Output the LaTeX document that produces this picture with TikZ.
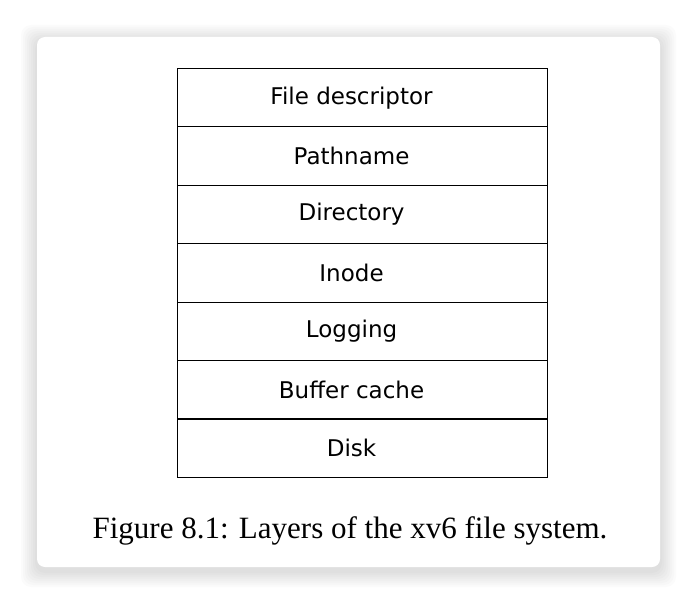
\documentclass[tikz,border=0pt]{standalone}
\usepackage{fontspec}
\setmainfont{DejaVu Sans}
\newfontfamily\capfont{Liberation Serif}
\begin{document}
\begin{tikzpicture}[x=1pt,y=-1pt,
  layer/.style={draw=black,line width=1.1pt,minimum width=370pt,minimum height=58.4pt,inner sep=0pt,anchor=north west,font=\fontsize{23}{26}\selectfont}]
\useasboundingbox (0,0) rectangle (696,604);
\fill[white] (0,0) rectangle (696,604);
\foreach \i in {16,14,...,2}{
  \fill[black,opacity=0.014,rounded corners=10pt] (37-\i,37-\i+4) rectangle (660+\i,567+\i+4);
}
\fill[white,rounded corners=8pt] (37,37) rectangle (660,567);
\foreach \t [count=\k from 0] in {File descriptor,Pathname,Directory,Inode,Logging,Buffer cache,Disk}{
  \node[layer] (l\k) at (177,68+58.4*\k) {\hspace*{-22pt}\raisebox{-3pt}{\t}};
}
\node[font=\capfont\fontsize{31}{34}\selectfont] (cap) at (350,531) {Figure 8.1: Layers of the xv6 file system.};
\end{tikzpicture}
\end{document}
